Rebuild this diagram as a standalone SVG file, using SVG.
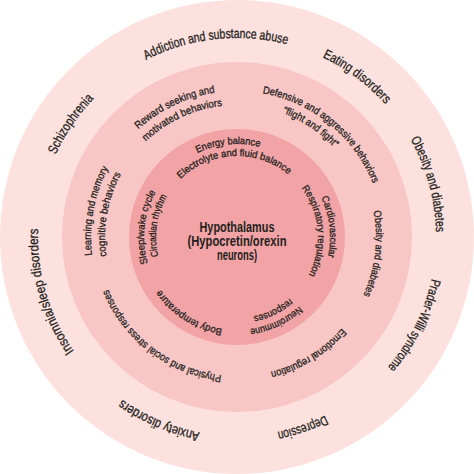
<svg xmlns="http://www.w3.org/2000/svg" xmlns:xlink="http://www.w3.org/1999/xlink" width="474" height="474" viewBox="0 0 474 474">
<style>
text{font-family:"Liberation Sans",Arial,sans-serif;fill:#231f20;stroke:#231f20;stroke-width:0.3px;}
.o{font-size:13.5px;}
.m{font-size:10.5px;}
.i{font-size:10px;}
.c{font-size:14px;font-weight:bold;text-anchor:middle;stroke:none;}
textPath{text-anchor:middle;}
</style>
<defs>
<path id="c199" d="M237,436 A199,199 0 1 1 237,38 A199,199 0 1 1 237,436"/>
<path id="c146" d="M237,383 A146,146 0 1 1 237,91 A146,146 0 1 1 237,383"/>
<path id="c139" d="M237,376 A139,139 0 1 1 237,98 A139,139 0 1 1 237,376"/>
<path id="c132" d="M237,369 A132,132 0 1 1 237,105 A132,132 0 1 1 237,369"/>
<path id="c93" d="M237,330 A93,93 0 1 1 237,144 A93,93 0 1 1 237,330"/>
<path id="c81" d="M237,318 A81,81 0 1 1 237,156 A81,81 0 1 1 237,318"/>
</defs>
<rect width="474" height="474" fill="#ffffff"/>
<g id="rings">
<circle cx="237" cy="237" r="237" fill="#fde1df"/>
<circle cx="237" cy="237" r="175" fill="#f8c6c5"/>
<circle cx="237" cy="237" r="108" fill="#f1a3a5"/>
</g>
<g id="outer-ring">
<g id="addiction"><text class="o"><textPath href="#c199" startOffset="48.25%" textLength="145" lengthAdjust="spacingAndGlyphs">Addiction and substance abuse</textPath></text></g>
<g id="eating"><text class="o"><textPath href="#c199" startOffset="60.22%" textLength="79" lengthAdjust="spacingAndGlyphs">Eating disorders</textPath></text></g>
<g id="obesity-outer"><text class="o"><textPath href="#c199" startOffset="70.72%" textLength="97" lengthAdjust="spacingAndGlyphs">Obesity and diabetes</textPath></text></g>
<g id="prader"><text class="o"><textPath href="#c199" startOffset="82.36%" textLength="100" lengthAdjust="spacingAndGlyphs">Prader-Willi syndrome</textPath></text></g>
<g id="depression"><text class="o"><textPath href="#c199" startOffset="94.72%" textLength="51" lengthAdjust="spacingAndGlyphs">Depression</textPath></text></g>
<g id="anxiety"><text class="o"><textPath href="#c199" startOffset="6.39%" textLength="85" lengthAdjust="spacingAndGlyphs">Anxiety disorders</textPath></text></g>
<g id="insomnia"><text class="o"><textPath href="#c199" startOffset="20.47%" textLength="130" lengthAdjust="spacingAndGlyphs">Insomnia/sleep disorders</textPath></text></g>
<g id="schizophrenia"><text class="o"><textPath href="#c199" startOffset="34.5%" textLength="68" lengthAdjust="spacingAndGlyphs">Schizophrenia</textPath></text></g>
</g>
<g id="middle-ring">
<g id="reward">
<text class="m"><textPath href="#c146" startOffset="42.89%" textLength="86" lengthAdjust="spacingAndGlyphs">Reward seeking and</textPath></text>
<text class="m"><textPath href="#c132" startOffset="43.03%" textLength="86" lengthAdjust="spacingAndGlyphs">motivated behaviors</textPath></text>
</g>
<g id="defensive">
<text class="m"><textPath href="#c146" startOffset="60.92%" textLength="149" lengthAdjust="spacingAndGlyphs">Defensive and aggressive behaviors</textPath></text>
<text class="m"><textPath href="#c132" startOffset="59.39%" textLength="63" lengthAdjust="spacingAndGlyphs">“flight and fight”</textPath></text>
</g>
<g id="obesity-middle"><text class="m"><textPath href="#c139" startOffset="76.94%" textLength="86" lengthAdjust="spacingAndGlyphs">Obesity and diabetes</textPath></text></g>
<g id="emotional"><text class="m"><textPath href="#c139" startOffset="91.25%" textLength="85" lengthAdjust="spacingAndGlyphs">Emotional regulation</textPath></text></g>
<g id="physical"><text class="m"><textPath href="#c139" startOffset="10.33%" textLength="149" lengthAdjust="spacingAndGlyphs">Physical and social stress responses</textPath></text></g>
<g id="learning">
<text class="m"><textPath href="#c146" startOffset="27.92%" textLength="90" lengthAdjust="spacingAndGlyphs">Learning and memory</textPath></text>
<text class="m"><textPath href="#c132" startOffset="27.78%" textLength="85" lengthAdjust="spacingAndGlyphs">cognitive behaviors</textPath></text>
</g>
</g>
<g id="inner-ring">
<g id="energy">
<text class="i"><textPath href="#c93" startOffset="48.44%" textLength="64" lengthAdjust="spacingAndGlyphs">Energy balance</textPath></text>
<text class="i"><textPath href="#c81" startOffset="49.33%" textLength="118" lengthAdjust="spacingAndGlyphs">Electrolyte and fluid balance</textPath></text>
</g>
<g id="cardio">
<text class="i"><textPath href="#c93" startOffset="73.25%" textLength="61" lengthAdjust="spacingAndGlyphs">Cardiovascular</textPath></text>
<text class="i"><textPath href="#c81" startOffset="73.72%" textLength="92" lengthAdjust="spacingAndGlyphs">Respiratory regulation</textPath></text>
</g>
<g id="neuroimmune">
<text class="i"><textPath href="#c93" startOffset="93.06%" textLength="55" lengthAdjust="spacingAndGlyphs">Neuroimmune</textPath></text>
<text class="i"><textPath href="#c81" startOffset="92.72%" textLength="41" lengthAdjust="spacingAndGlyphs">responses</textPath></text>
</g>
<g id="body-temp"><text class="i"><textPath href="#c93" startOffset="8.97%" textLength="75" lengthAdjust="spacingAndGlyphs">Body temperature</textPath></text></g>
<g id="sleep">
<text class="i"><textPath href="#c93" startOffset="26.72%" textLength="74" lengthAdjust="spacingAndGlyphs">Sleep/wake cycle</textPath></text>
<text class="i"><textPath href="#c81" startOffset="27.28%" textLength="62" lengthAdjust="spacingAndGlyphs">Circadian rhythm</textPath></text>
</g>
</g>
<g id="center">
<text class="c" x="237" y="232.3" textLength="75" lengthAdjust="spacingAndGlyphs">Hypothalamus</text>
<text class="c" x="237" y="246" textLength="99" lengthAdjust="spacingAndGlyphs">(Hypocretin/orexin</text>
<text class="c" x="237" y="259.5" textLength="40" lengthAdjust="spacingAndGlyphs">neurons)</text>
</g>
</svg>
